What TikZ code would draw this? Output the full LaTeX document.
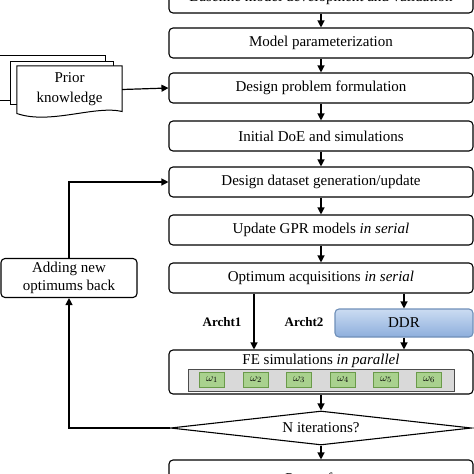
\documentclass[tikz,border=0pt]{standalone}
\usepackage{fontspec}
\setmainfont{Liberation Serif}
\usepackage{tikz}
\usetikzlibrary{shapes.geometric, arrows.meta, positioning, calc}

\definecolor{stripgray}{HTML}{D9D9D9}
\definecolor{wfill}{HTML}{A9D18E}
\definecolor{wdraw}{HTML}{6A9A4A}
\definecolor{ddrtop}{HTML}{CBDCF2}
\definecolor{ddrbot}{HTML}{8DAEDC}
\definecolor{ddrdraw}{HTML}{6F8FB8}

\begin{document}
\begin{tikzpicture}[
  x=1pt, y=-1pt,
  stage/.style={draw, rounded corners=4pt, line width=1.1pt, minimum width=304pt, minimum height=30pt, align=center, font=\fontsize{15}{18}\selectfont, fill=white},
  arr/.style={-{Triangle[length=7pt, width=7pt]}, line width=1.2pt},
  sheet/.style={draw, line width=1pt, fill=white},
  wbox/.style={draw=wdraw, fill=wfill, minimum width=25pt, minimum height=15pt, inner sep=0pt, font=\fontsize{11}{12}\selectfont},
  archlbl/.style={font=\fontsize{13}{15}\selectfont\bfseries},
]
\useasboundingbox (0,0) rectangle (474,474);
\clip (0,0) rectangle (474,474);

% Main column
\node[stage] (base) at (321,-2) {Baseline model development and validation};
\node[stage] (param) at (321,43) {Model parameterization};
\node[stage] (problem) at (321,88) {Design problem formulation};
\node[stage] (doe) at (321,136) {Initial DoE and simulations};
\node[stage] (dataset) at (321,182) {Design dataset generation/update};
\node[stage] (gpr) at (321,230) {Update GPR models \textit{in serial}};
\node[stage] (optim) at (321,278) {Optimum acquisitions \textit{in serial}};
\node[stage, draw=ddrdraw, top color=ddrtop, bottom color=ddrbot, minimum width=138pt, minimum height=28pt] (ddr) at (404,323) {DDR};
\node[stage, minimum height=44pt] (febox) at (321,372) {};
\node[font=\fontsize{15}{18}\selectfont, inner sep=0pt] (fetitle) at (321,361) {FE simulations \textit{in parallel}};
\node[draw=black!70, fill=stripgray, line width=0.8pt, minimum width=266pt, minimum height=22pt, inner sep=0pt] (strip) at (321,380) {};
\foreach \i/\xx in {1/212, 2/256, 3/299, 4/343, 5/386, 6/429}
  \node[wbox] (w\i) at (\xx,379.5) {$\omega_{\i}$};
\node[diamond, draw, line width=1.1pt, fill=white, aspect=8.85, inner sep=0pt, minimum width=301pt, minimum height=34pt, font=\fontsize{15}{18}\selectfont] (cond) at (321,428) {N iterations?};
\node[stage, minimum height=36pt] (pareto) at (321,478) {Pareto front};

% Side boxes
\node[stage, minimum width=136pt, minimum height=39pt] (adding) at (69,278) {Adding new\\optimums back};

% Prior knowledge (stacked documents)
\draw[sheet] (-2,55) rectangle (105,100);
\draw[sheet] (10,61) rectangle (113,104);
\node[minimum width=105pt, minimum height=47pt, inner sep=0pt, align=center, font=\fontsize{15}{20}\selectfont] (prior) at (69.5,89.5) {Prior\\knowledge};
\draw[sheet] (prior.north west) -- (prior.north east) -- ($(prior.east)+(0,22)$)
  .. controls (95,105) and (50,125) .. ($(prior.west)+(0,24)$) -- cycle;
\node[minimum width=105pt, minimum height=47pt, inner sep=0pt, align=center, font=\fontsize{15}{20}\selectfont] at (69.5,89.5) {Prior\\knowledge};

\coordinate (archx) at (254,0);
\node[archlbl] (archt1) at (222,322) {Archt1};
\node[archlbl] (archt2) at (304,322) {Archt2};

% Connectors
\draw[arr] (base) -- (param);
\draw[arr] (param) -- (problem);
\draw[arr] (problem) -- (doe);
\draw[arr] (doe) -- (dataset);
\draw[arr] (dataset) -- (gpr);
\draw[arr] (gpr) -- (optim);
\draw[arr] (optim.south -| archx) -- (febox.north -| archx);
\draw[arr] (optim.south -| ddr) -- (ddr.north);
\draw[arr] (ddr.south) -- (febox.north -| ddr);
\draw[arr] (febox) -- (cond);
\draw[arr] (cond) -- (pareto);
\draw[arr] (cond.west) -| (adding.south);
\draw[arr] (adding.north) |- (dataset.west);
\draw[arr] (prior.east) -- (problem.west);

\end{tikzpicture}
\end{document}
